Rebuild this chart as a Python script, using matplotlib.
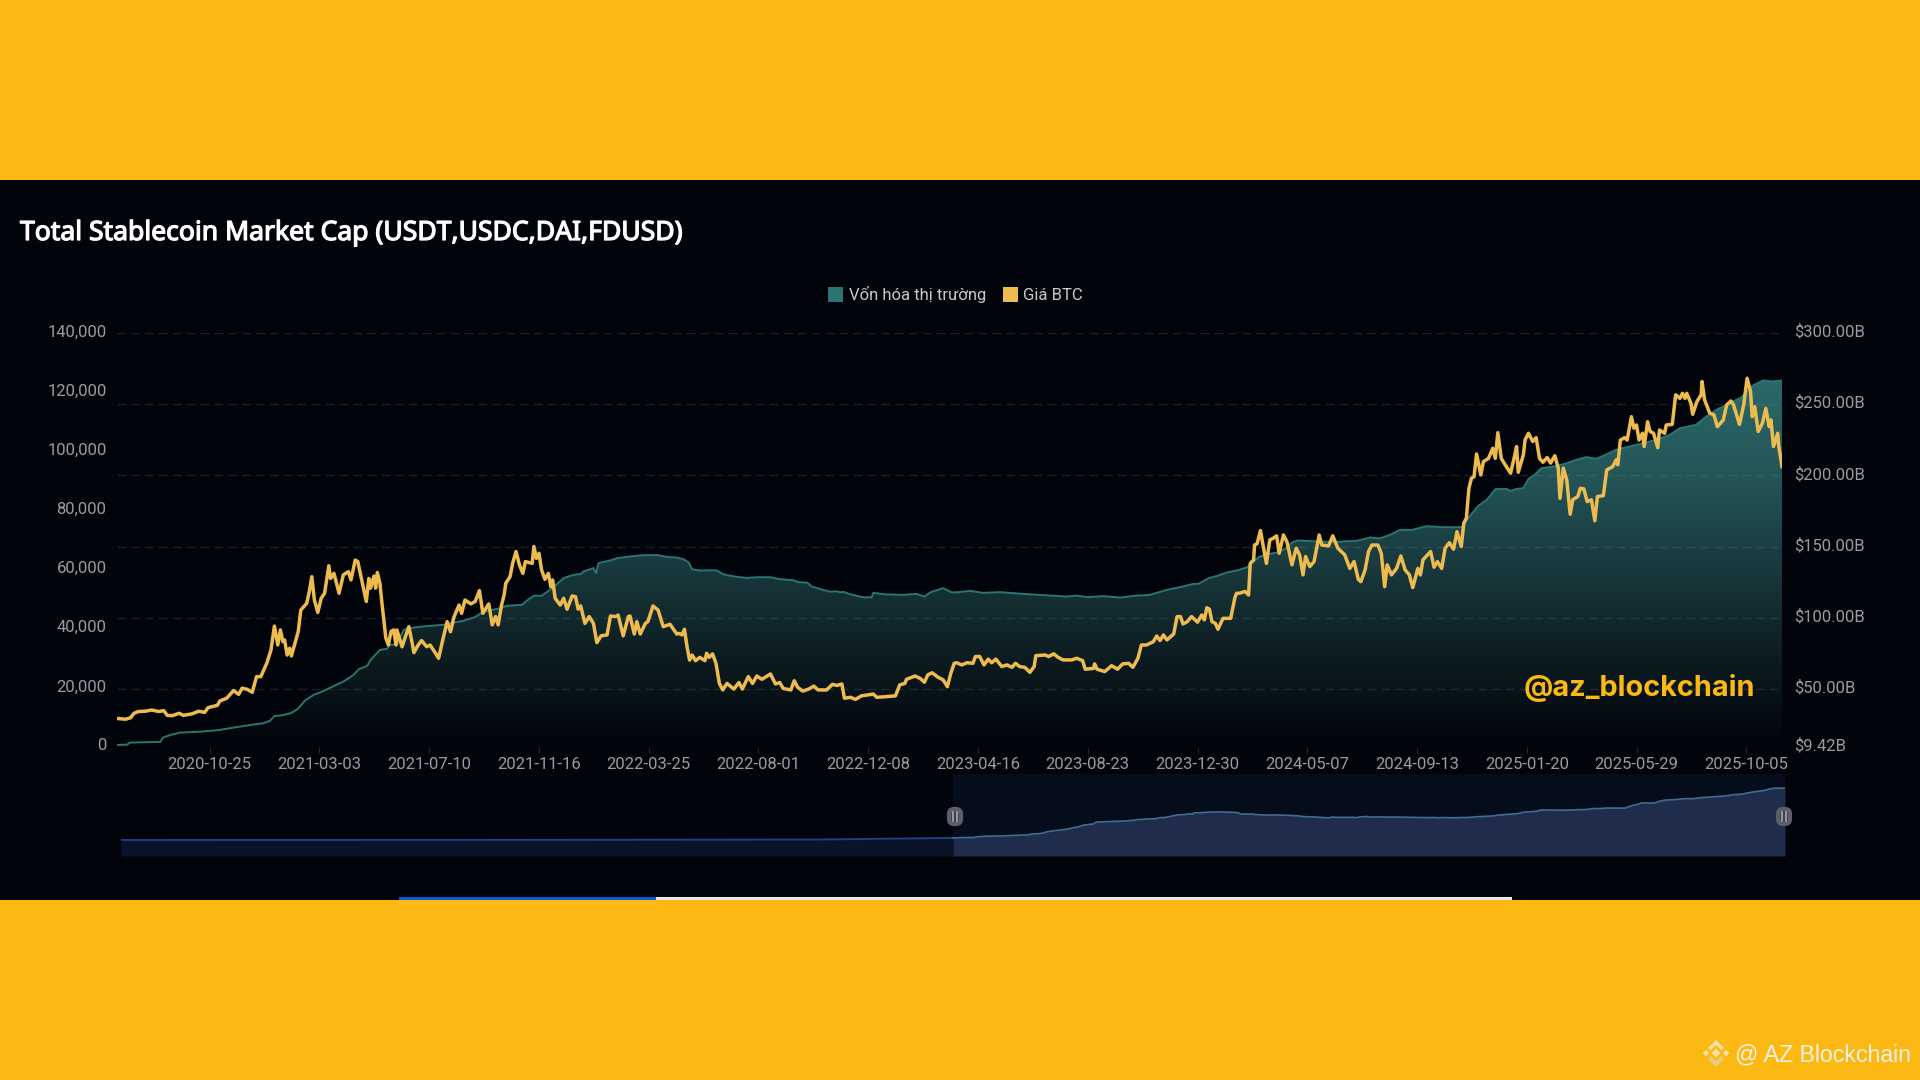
"""Total stablecoin market cap against BTC price."""
import matplotlib

matplotlib.use("Agg")
import matplotlib.dates as mdates
import matplotlib.patheffects as path_effects
import numpy as np
import pandas as pd
from matplotlib import pyplot as plt
from matplotlib.colors import LinearSegmentedColormap
from matplotlib.patches import FancyBboxPatch, Polygon, Rectangle
from matplotlib.transforms import ScaledTranslation

START_DATE = "2020-07-08"
LAST_DAY = 1957

tick_dates = [
    "2020-10-25", "2021-03-03", "2021-07-10", "2021-11-16", "2022-03-25",
    "2022-08-01", "2022-12-08", "2023-04-16", "2023-08-23", "2023-12-30",
    "2024-05-07", "2024-09-13", "2025-01-20", "2025-05-29", "2025-10-05",
]
price_ticks = [0, 20000, 40000, 60000, 80000, 100000, 120000, 140000]
cap_ticks = [9.42, 50, 100, 150, 200, 250, 300]
cap_tick_labels = ["$9.42B", "$50.00B", "$100.00B", "$150.00B", "$200.00B", "$250.00B", "$300.00B"]

# days since START_DATE
btc_days = [
    2, 10, 16, 20, 25, 33, 41, 49, 55, 59, 65, 73, 78, 88, 96, 103, 107, 118, 121, 129, 137, 143, 147, 153, 159,
    164, 169, 176, 181, 185, 189, 192, 195, 197, 200, 203, 205, 208, 213, 216, 223, 226, 229, 232, 236, 240, 244,
    249, 251, 255, 261, 266, 272, 275, 280, 283, 288, 293, 296, 298, 302, 304, 306, 309, 311, 316, 319, 322, 325, 328,
    329, 332, 335, 339, 343, 347, 349, 354, 358, 364, 368, 373, 378, 382, 388, 392, 396, 400, 402, 405, 409, 416,
    421, 426, 430, 437, 441, 445, 448, 452, 455, 457, 462, 465, 469, 473, 477, 480, 488, 490, 493, 496, 499, 503,
    507, 510, 512, 515, 521, 525, 529, 535, 539, 542, 545, 550, 555, 560, 564, 569, 576, 580, 586, 589, 595, 601,
    603, 608, 611, 615, 621, 624, 630, 636, 642, 650, 658,
    661, 664, 667, 670, 673, 676, 680, 685, 691, 693, 696, 700, 704, 708, 712, 717, 725, 731, 735, 742, 747, 752,
    758, 768, 774, 779, 783, 792, 796, 800, 806, 813, 819, 824, 834, 841, 846, 852, 855, 862, 868, 875, 889, 893,
    903, 915, 920, 926, 928, 938, 944, 949, 953, 958, 965, 971, 976, 980, 984, 987,
    993, 999, 1006, 1009, 1014, 1019, 1024, 1028, 1033, 1040, 1046, 1052, 1056, 1061, 1067, 1073, 1078, 1080, 1091,
    1095, 1101, 1106, 1112, 1122, 1128, 1135, 1138, 1148, 1149, 1152, 1161, 1169, 1176, 1182, 1189, 1194, 1200, 1204,
    1210, 1218, 1222, 1226, 1230, 1234, 1242, 1246, 1250, 1253, 1258, 1263, 1270, 1275, 1278, 1281, 1284, 1287, 1291,
    1294, 1300, 1309, 1314, 1316,
    1319, 1326, 1330, 1332, 1336, 1337, 1340, 1344, 1347, 1351, 1355, 1359, 1363, 1366, 1371, 1375, 1381, 1386, 1390,
    1394, 1397, 1402, 1407, 1413, 1416, 1424, 1429, 1435, 1443, 1449, 1454, 1459, 1462, 1467, 1471, 1475, 1482, 1486,
    1490, 1493, 1498, 1504, 1509, 1514, 1519, 1523, 1529, 1532, 1535, 1544, 1548, 1552, 1557, 1561, 1566, 1571, 1575,
    1580, 1583, 1586, 1589, 1592, 1595, 1598, 1603, 1606, 1612, 1617, 1620, 1623, 1627, 1633, 1638, 1643, 1645,
    1647, 1653, 1655, 1659, 1664, 1668, 1672, 1676, 1681, 1685, 1690, 1694, 1696, 1700, 1704, 1708, 1711, 1717, 1720,
    1724, 1728, 1733, 1737, 1740, 1747, 1751, 1758, 1762, 1764, 1767, 1772, 1775, 1780, 1783, 1786, 1789, 1793, 1795,
    1799, 1802, 1806, 1811, 1813, 1819, 1821, 1828, 1832, 1837, 1840, 1843, 1845, 1850, 1852, 1857, 1862, 1863, 1866,
    1872, 1877, 1881, 1888, 1892, 1897, 1900, 1907, 1912, 1916, 1920, 1922, 1925, 1929, 1934, 1938, 1942, 1944, 1947,
    1952, 1953, 1957,
]
btc_usd = [
    9600, 9400, 9900, 11400, 12000, 12100, 12500, 12000, 12300, 10700, 10600, 11400, 10700, 11200, 12100, 11700, 13300, 14100, 15600, 16500, 19100, 17800, 19900, 19500, 18500,
    23800, 23800, 28300, 32800, 40900, 34500, 39600, 35600, 36200, 31100, 33400, 30800, 33900, 39000, 46300, 48600, 52500, 57600, 49700, 45500, 50300, 52000,
    61300, 57000, 58700, 52000, 58200, 59300, 56500, 63200, 62700, 55900, 49200, 57000, 53700, 57800, 53700, 59000, 55400, 49700, 36800, 34500, 39000, 39600, 34500,
    39600, 36800, 33900, 37300, 40700, 35100, 31900, 34500, 36000, 33900, 34500, 32300, 30000, 35100, 42400, 39000, 43900, 46600, 48000, 45200, 49700, 48400,
    49200, 52900, 45200, 48400, 41300, 44100, 41300, 48000, 51400, 55400, 57600, 62100, 66100, 61600, 58700, 62700, 62100, 67800, 63800, 65500, 59900, 56700,
    58700, 54200, 56500, 50300, 48000, 50300, 46600, 51100, 50800, 46600, 47700, 41800, 44100, 41800, 35300, 37600, 37900, 44300, 44100, 44600, 37600, 44100,
    44300, 38200, 42400, 38200, 41800, 42400, 47700, 46300, 40700, 41500, 38200,
    38400, 37900, 39800, 33900, 29400, 31100, 29200, 30300, 29200, 31700, 30300, 31500, 28300, 21500, 19300, 21500, 19600, 21800, 19600, 23800, 21500, 24000,
    22900, 24700, 21300, 21800, 19800, 19300, 22400, 20200, 18900, 19600, 20600, 19300, 19300, 21200, 20800, 21300, 16500, 16800, 16100, 17300, 17900, 16800,
    17000, 17300, 21000, 21500, 22900, 24000, 23200, 21900, 24400, 25100, 23600, 22700, 20400, 24900, 28300, 28500,
    27750, 28500, 28300, 30600, 30600, 27750, 29700, 28500, 29700, 27200, 27750, 26950, 28300, 27200, 26950, 25250, 27200, 30900, 31100,
    30600, 31500, 30350, 29450, 29450, 30000, 29200, 26300, 26600, 28100, 26300, 25500, 27500, 26300, 28100, 28300, 26950, 30000, 34500,
    34500, 35600, 37550, 36000, 37900, 36200, 38200, 44100, 44100, 41600, 42400, 44100, 42200, 44650, 43000, 47100, 46600, 42400, 41800,
    39800, 43500, 43500, 50600, 52000,
    52000, 52600, 51400, 62100, 63300, 68300, 68700, 73200, 68300, 62100, 70000, 70600, 71400, 65500, 71700, 69500, 61600, 67200, 65000,
    58200, 64400, 61000, 62700, 71700, 68300, 68000, 71400, 67200, 65000, 60400, 62700, 56700, 55900, 59900, 66100, 68300, 68300, 65500,
    54200, 61600, 58200, 60400, 64600, 59900, 58200, 53900, 60400, 58200, 63300, 66100, 60800, 62700, 60400, 67200, 69100, 66900, 72800,
    67800, 75700, 77400, 87500, 90900, 91400, 99100, 92000, 96500, 97600, 101000, 97600, 106300, 97600, 94800, 92600, 98800, 101600,
    92900, 98800, 103800, 106100, 103300, 104600, 97600, 96300, 97900, 96000, 98500, 94300, 84100, 94300, 90300, 78700, 83600, 84700, 87500,
    87300, 83000, 83600, 76500, 84700, 85000, 93700, 94800, 97100, 95400, 103800, 104600, 103800, 111700, 107800, 108900, 103800, 106100, 101600,
    110000, 106700, 106100, 101200, 107200, 106100, 108900, 109100, 119100, 117900, 119600, 117900, 119600, 116200, 112500, 116800, 119100, 123600, 117400,
    112900, 112300, 108300, 110600, 115700, 117000, 115700, 109100, 115700, 124700, 120200, 111700, 115100, 106700, 109500, 114500, 108300, 110600, 101600,
    106100, 102200, 94800,
]
cap_days = [
    0, 2, 12, 15, 51, 54, 63, 74, 98, 118, 137, 157, 172, 180, 185, 192, 204, 212, 221, 231, 243, 255, 266, 278, 284, 294, 298, 309, 317, 321,
    329, 337, 349, 368, 384, 396, 407, 421, 431, 447, 458, 476, 482, 490, 499, 509, 517, 525, 537, 546, 548, 560, 563, 566, 580, 588, 603, 619, 635, 646,
    658, 666, 672, 676, 685, 697, 705, 713, 727, 740, 752, 768, 779, 795, 801, 811, 817, 830, 838, 846, 850, 854, 862, 877, 887, 889, 903, 924, 940, 949, 956, 971, 981,
    987, 1003, 1018, 1038, 1065, 1089, 1116, 1128, 1140, 1159, 1179, 1195, 1214, 1234, 1253, 1265, 1271, 1283, 1293, 1304,
    1316, 1328, 1336, 1343, 1355, 1363, 1375, 1381, 1388, 1410, 1434, 1441, 1457, 1473, 1484, 1496, 1508, 1522, 1539, 1559, 1578, 1582, 1588, 1600, 1610, 1620, 1633, 1638,
    1645, 1653, 1659, 1666, 1674, 1688, 1702, 1715, 1727, 1739, 1751, 1762, 1786, 1809, 1825, 1837, 1856, 1868, 1880, 1896, 1909, 1923, 1935, 1946, 1957,
]
cap_bn = [
    10.9, 10.9, 11.1, 12.5, 13.0, 16.0, 17.9, 19.5, 20.2, 21.2, 23.0, 24.9, 26.1, 27.9, 31.2, 31.5, 33.1, 35.9, 42.0, 46.0, 48.8, 52.3, 55.3, 60.0, 64.0, 66.3, 70.5, 77.6, 78.3, 81.1,
    81.5, 91.7, 93.3, 94.5, 95.2, 96.8, 98.0, 100.6, 104.5, 106.4, 108.5, 109.2, 112.3, 115.6, 115.6, 119.8, 123.7, 128.0, 130.3, 131.0, 132.6, 135.0, 131.5, 138.5, 140.4, 142.0, 143.2, 144.1, 144.1, 142.9,
    142.4, 141.2, 138.9, 134.2, 133.3, 133.5, 133.3, 130.5, 129.0, 128.1, 128.6, 128.6, 127.2, 126.5, 125.1, 124.8, 122.0, 119.7, 118.5, 118.7, 118.0, 118.3, 116.6, 114.5, 114.5, 117.6, 116.6, 116.2, 116.9, 115.0, 118.0, 120.9, 118.0,
    118.0, 119.0, 117.6, 118.1, 116.9, 116.0, 115.0, 115.7, 114.6, 115.3, 114.3, 115.5, 116.2, 119.7, 122.1, 123.9, 123.9, 127.9, 129.5, 131.9,
    133.3, 135.4, 139.6, 143.1, 145.0, 145.9, 149.0, 153.0, 154.4, 153.7, 153.2, 153.7, 154.1, 156.5, 155.8, 158.3, 161.8, 161.8, 164.4, 163.7, 163.7, 164.2, 170.0, 178.7, 182.9, 190.4, 190.6, 189.2,
    190.6, 191.1, 197.6, 200.4, 205.1, 206.3, 208.2, 211.0, 212.9, 211.7, 215.0, 218.0, 221.5, 225.0, 228.5, 233.2, 235.6, 241.4, 246.1, 250.8, 254.8, 263.2, 266.7, 266.0, 266.7,
]
# the range slider also covers the years before the main window
early_days = [-1957, -1400, -800, -300, -110]
early_bn = [0.2, 0.4, 1.0, 3.0, 8.0]

YELLOW = "#FDB913"
DARK = "#01040B"
TEAL = "#2C7374"
GOLD = "#EDBB4F"
GREY = "#9B9B9B"

plt.rcParams["font.family"] = ["Roboto", "Noto Sans", "DejaVu Sans"]


def to_dates(days):
    return pd.Timestamp(START_DATE) + pd.to_timedelta(np.asarray(days), unit="D")


def box(left, top, right, bottom):
    """Pixel box to figure fractions."""
    return [left / 1920, 1 - bottom / 1080, (right - left) / 1920, (bottom - top) / 1080]


def overlay(zorder):
    layer = fig.add_axes([0, 0, 1, 1], zorder=zorder)
    layer.set_xlim(0, 1920)
    layer.set_ylim(1080, 0)
    layer.axis("off")
    return layer


fig = plt.figure(figsize=(19.2, 10.8), dpi=100, facecolor=YELLOW)

# page background
bg = overlay(0)
bg.add_patch(Rectangle((0, 180), 1920, 720, fc=DARK, ec="none"))
bg.add_patch(Rectangle((399, 897), 257, 3, fc="#0A5BD8", ec="none"))
bg.add_patch(Rectangle((656, 897), 856, 3, fc="#E8E8E8", ec="none"))

# [1] main chart
ax_cap = fig.add_axes(box(117, 333, 1782, 747), zorder=1)
ax_cap.patch.set_visible(False)
ax_price = ax_cap.twinx()
ax_price.patch.set_visible(False)

x_cap = to_dates(cap_days)
x_min, x_max = to_dates([0, LAST_DAY])
fill_cmap = LinearSegmentedColormap.from_list(
    "cap_fill", [DARK, "#0D1D21", "#193A3E", "#245658", "#2C6869"]
)
gradient = np.linspace(1, 0, 256).reshape(-1, 1)
image = ax_cap.imshow(
    gradient,
    cmap=fill_cmap,
    aspect="auto",
    extent=[mdates.date2num(x_min), mdates.date2num(x_max), 9.42, 266.7],
    zorder=1,
)
outline = ax_cap.fill_between(x_cap, 9.42, cap_bn, facecolor="none", edgecolor="none")
image.set_clip_path(outline.get_paths()[0], transform=ax_cap.transData)
ax_cap.plot(x_cap, cap_bn, color=TEAL, linewidth=1.4, zorder=3, label="Vốn hóa thị trường")
ax_price.plot(to_dates(btc_days), btc_usd, color=GOLD, linewidth=2.5, solid_joinstyle="round", label="Giá BTC")

ax_cap.set_xlim(x_min, x_max)
ax_cap.set_ylim(9.42, 300)
ax_price.set_ylim(0, 140000)
ax_cap.set_xticks(pd.to_datetime(tick_dates))
ax_cap.set_xticklabels(tick_dates, color=GREY, fontsize=12)
ax_cap.tick_params(axis="x", length=4, width=0.8, color="#1E2A2E", pad=3.5)
ax_cap.set_yticks(cap_ticks)
ax_cap.set_yticklabels(cap_tick_labels, color=GREY, fontsize=12)
ax_cap.yaxis.tick_right()
ax_cap.tick_params(axis="y", length=0, pad=8.5)
ax_price.yaxis.tick_left()
ax_price.set_yticks(price_ticks)
ax_price.set_yticklabels([f"{v:,}" for v in price_ticks], color=GREY, fontsize=12)
ax_price.tick_params(axis="y", length=0, pad=7.5)
ax_cap.set_axisbelow("line")
ax_cap.grid(axis="y", color="#6F9A9A", alpha=0.2, linewidth=1, linestyle=(0, (6, 4)))
for spine in list(ax_cap.spines.values()) + list(ax_price.spines.values()):
    spine.set_visible(False)

# y tick labels sit slightly above their gridlines
nudge = ScaledTranslation(0, 2.5 / 100, fig.dpi_scale_trans)
for label in ax_cap.get_yticklabels() + ax_price.get_yticklabels():
    label.set_transform(label.get_transform() + nudge)

# [2] range slider
ax_slider = fig.add_axes(box(121, 774, 1785, 856), zorder=1)
ax_slider.patch.set_visible(False)
all_days = np.array(early_days + cap_days)
x_all = to_dates(all_days)
y_all = np.array(early_bn + cap_bn)
inside = all_days >= 0
before = all_days <= 0
ax_slider.axvspan(x_min, x_all[-1], color="#050C1C", zorder=0)
ax_slider.fill_between(x_all[before], -82, y_all[before], color="#0A1428", linewidth=0)
ax_slider.fill_between(x_all[inside], -82, y_all[inside], color="#202C4B", linewidth=0)
ax_slider.plot(x_all[before], y_all[before], color="#1C3F86", linewidth=1.4)
ax_slider.plot(x_all[inside], y_all[inside], color="#3F6F8F", linewidth=1.2)
ax_slider.set_xlim(x_all[0], x_all[-1])
ax_slider.set_ylim(-82, 339)
ax_slider.axis("off")

# [3] text and decorations on top
top = overlay(5)
title = top.text(20, 233, "Total Stablecoin Market Cap (USDT,USDC,DAI,FDUSD)", color="white",
                 fontsize=19.1, family="Noto Sans", va="center", ha="left")
title.set_path_effects([path_effects.withStroke(linewidth=0.9, foreground="white")])
handles = [
    Rectangle((0, 0), 1, 1, fc=TEAL, ec="none"),
    Rectangle((0, 0), 1, 1, fc=GOLD, ec="none"),
]
top.legend(
    handles,
    ["Vốn hóa thị trường", "Giá BTC"],
    loc="center",
    bbox_to_anchor=(955.5 / 1920, 1 - 294.5 / 1080),
    bbox_transform=fig.transFigure,
    ncols=2,
    frameon=False,
    fontsize=12,
    labelcolor="#C9C9C9",
    handlelength=0.9,
    handleheight=1.05,
    handletextpad=0.35,
    columnspacing=1.0,
)
top.text(1524, 688, "@az_blockchain", color=YELLOW, fontsize=20.8, fontweight="bold",
         family="Inter", va="center", ha="left")
top.text(1735, 1055, "@ AZ Blockchain", color="#F4F1E8", fontsize=16.7, family="Liberation Sans",
         va="center", ha="left")

for cx in (955, 1784):
    top.add_patch(FancyBboxPatch((cx - 6, 809), 12, 15, boxstyle="round,pad=0,rounding_size=5",
                                 mutation_scale=1, fc="#3C424C", ec="#5A5F68", linewidth=3))
    top.plot([cx - 2, cx - 2], [812, 821], color="#A6A9AE", linewidth=1.2)
    top.plot([cx + 2, cx + 2], [812, 821], color="#A6A9AE", linewidth=1.2)

# small diamond logo beside the credit
LOGO = "#FBE3A6"
for cx, cy, half in [(1716, 1053, 4.5), (1706, 1053, 3.2), (1726, 1053, 3.2)]:
    top.add_patch(Polygon([(cx - half, cy), (cx, cy - half), (cx + half, cy), (cx, cy + half)], fc=LOGO, ec="none"))
top.add_patch(Polygon([(1716, 1040), (1724, 1048), (1721, 1050), (1716, 1045), (1711, 1050), (1708, 1048)], fc=LOGO, ec="none"))
top.add_patch(Polygon([(1716, 1067), (1724, 1059), (1721, 1056), (1716, 1061), (1711, 1056), (1708, 1059)], fc="#E9C987", ec="none"))

fig.savefig("out.png", dpi=100, facecolor=YELLOW)
